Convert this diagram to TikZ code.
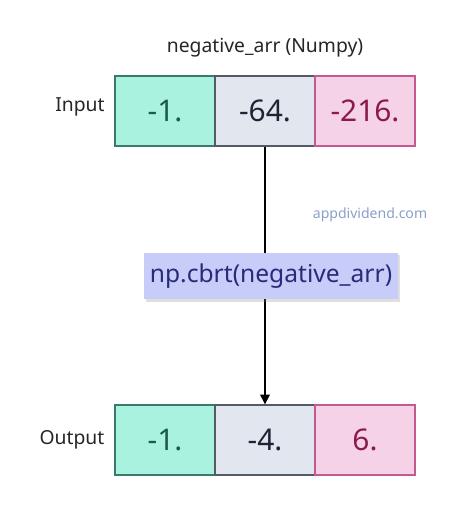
\documentclass[tikz,border=0pt]{standalone}
\usepackage{fontspec}
\setmainfont{Noto Sans}
\usetikzlibrary{shadows, arrows.meta}
\definecolor{tealfill}{HTML}{AAF2E0}
\definecolor{tealline}{HTML}{3A7A6C}
\definecolor{tealtext}{HTML}{1C5A4A}
\definecolor{greyfill}{HTML}{E2E6EE}
\definecolor{greyline}{HTML}{555B66}
\definecolor{greytext}{HTML}{1E2433}
\definecolor{pinkfill}{HTML}{F5D2E6}
\definecolor{pinkline}{HTML}{C45A90}
\definecolor{pinktext}{HTML}{8A1A4A}
\definecolor{funcfill}{HTML}{C8CCF8}
\definecolor{functext}{HTML}{2A2A7A}
\definecolor{marktext}{HTML}{8AA0C8}
\tikzset{
  cell/.style={draw, line width=0.8pt, minimum width=2cm, minimum height=1.4cm,
    inner sep=0pt, font=\fontsize{17}{20}\selectfont},
  rowlabel/.style={font=\fontsize{11}{13}\selectfont, text=black!85},
}
\begin{document}
\begin{tikzpicture}[x=0.02cm, y=-0.02cm]
    \useasboundingbox (0,0) rectangle (474,506);

    % Titel
    \node[font=\fontsize{11}{13}\selectfont, text=black!85] (title) at (265,48) {negative\_arr (Numpy)};

    % Eingabe
    \node[rowlabel] (inlabel) at (80,107) {Input};
    \node[cell, fill=tealfill, draw=tealline, text=tealtext] (in1) at (165,111) {-1.};
    \node[cell, fill=greyfill, draw=greyline, text=greytext] (in2) at (265,111) {-64.};
    \node[cell, fill=pinkfill, draw=pinkline, text=pinktext] (in3) at (365,111) {-216.};

    % Ausgabe
    \node[rowlabel] (outlabel) at (72,440) {Output};
    \node[cell, fill=tealfill, draw=tealline, text=tealtext] (out1) at (165,440) {-1.};
    \node[cell, fill=greyfill, draw=greyline, text=greytext] (out2) at (265,440) {-4.};
    \node[cell, fill=pinkfill, draw=pinkline, text=pinktext] (out3) at (365,440) {6.};

    % Funktion
    \draw[-{Triangle[length=5.5pt, width=5.5pt]}, line width=0.8pt] (in2.south) -- (out2.north);
    \node[fill=funcfill, text=functext, minimum width=5.06cm, minimum height=0.94cm,
      font=\fontsize{14}{17}\selectfont, drop shadow={opacity=0.25, shadow xshift=1pt, shadow yshift=-1.5pt}] (func) at (271,276) {np.cbrt(negative\_arr)};

    % Wasserzeichen
    \node[font=\fontsize{8}{10}\selectfont, text=marktext] (mark) at (370,215) {appdividend.com};
\end{tikzpicture}
\end{document}
